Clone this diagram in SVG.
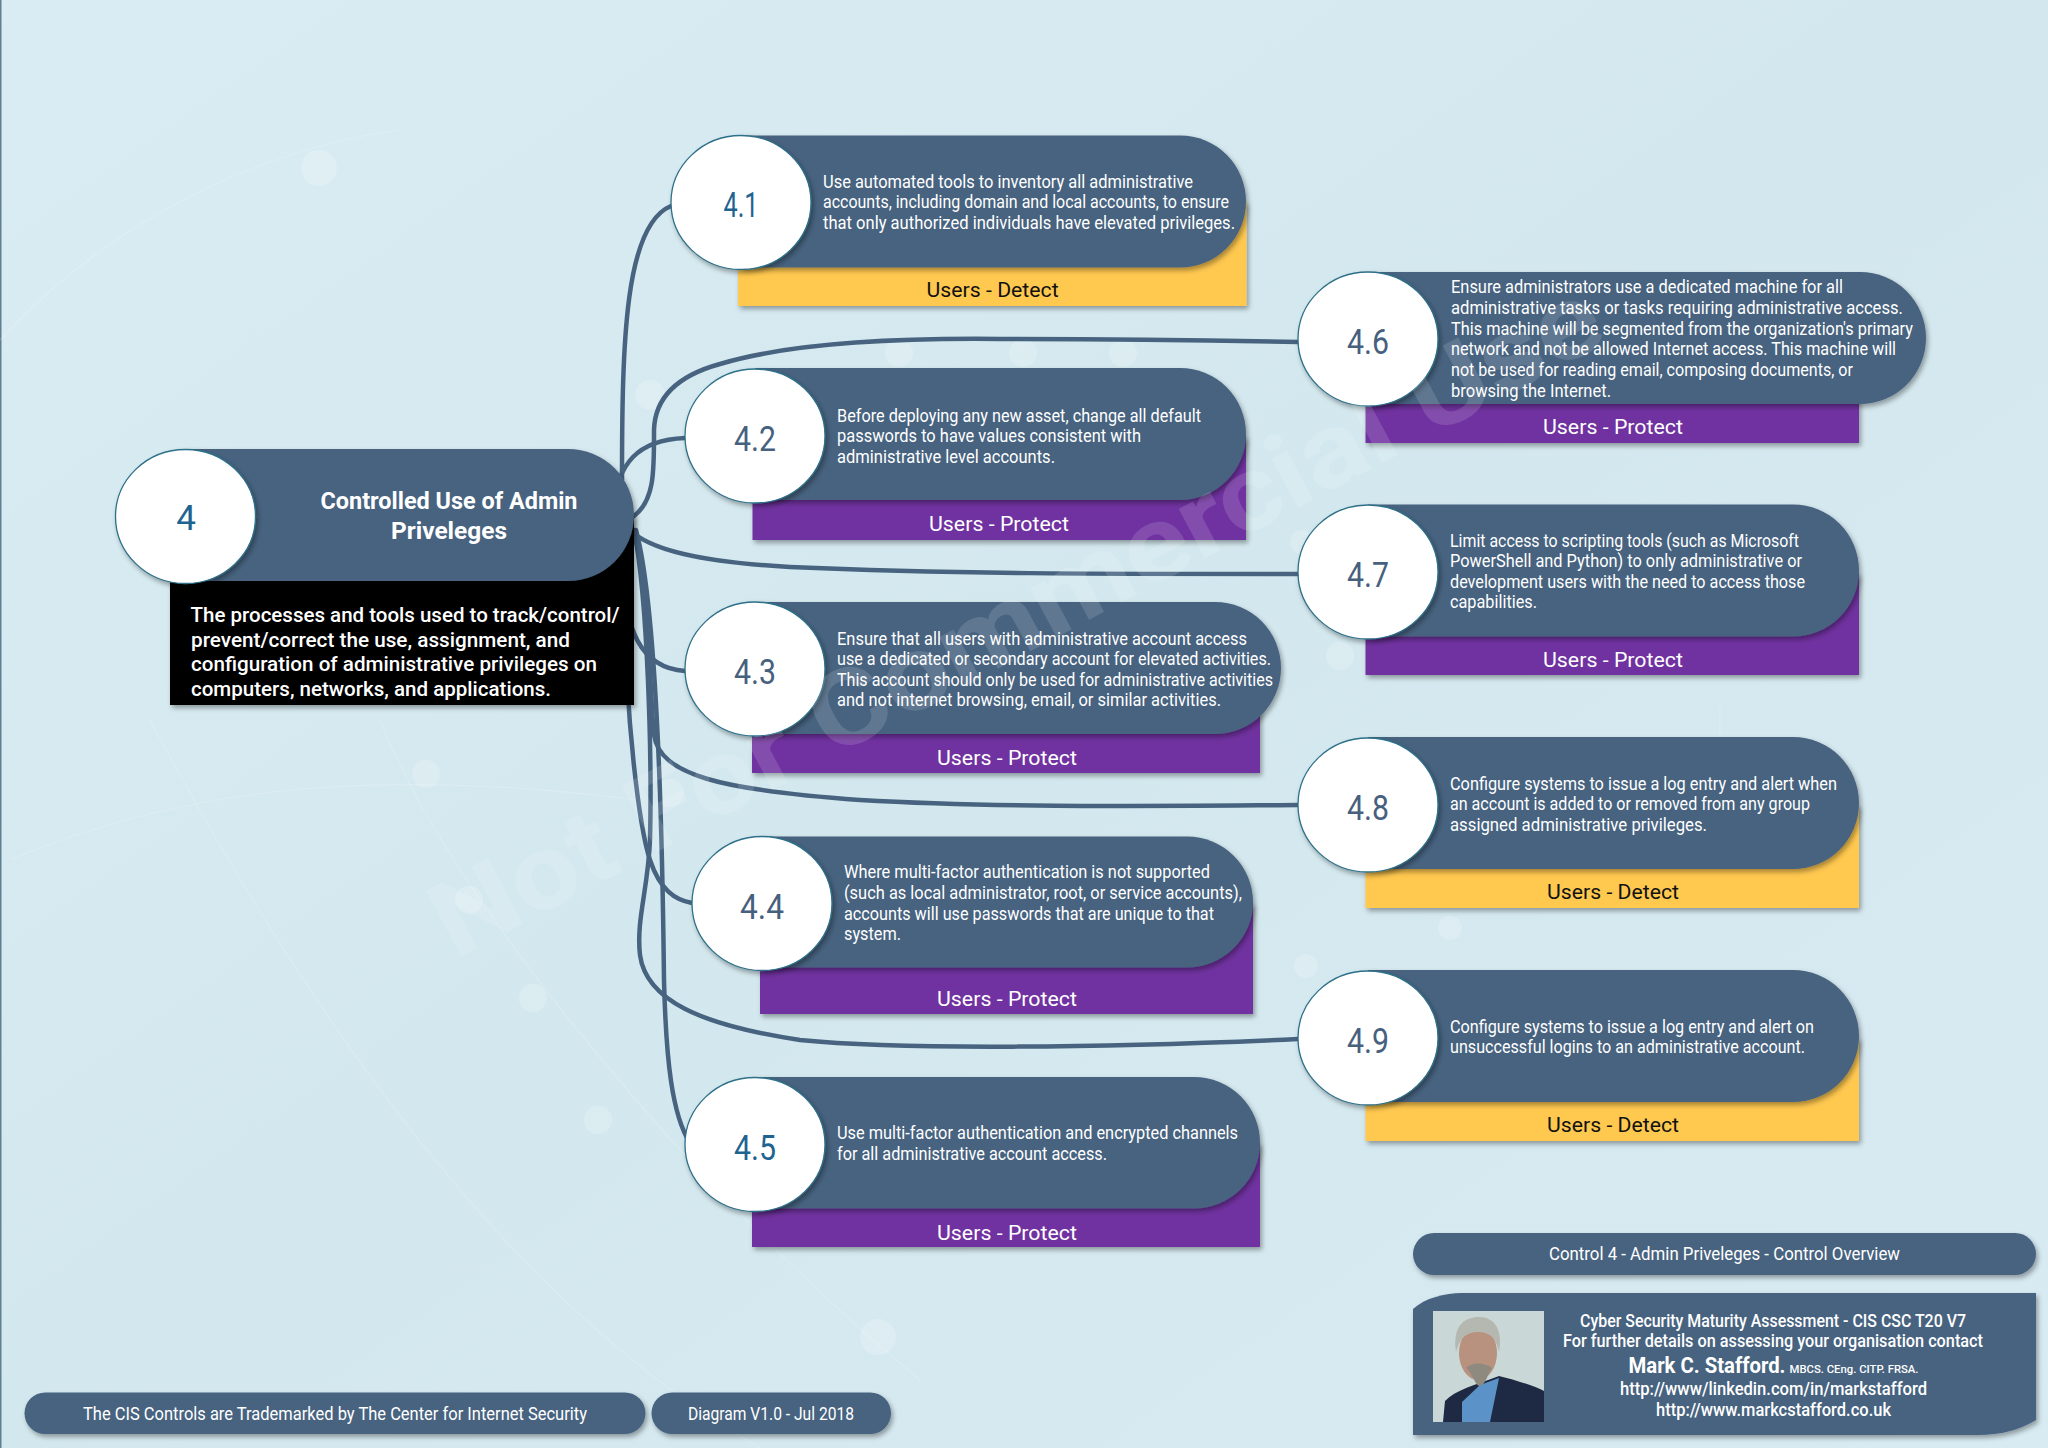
<svg xmlns="http://www.w3.org/2000/svg" width="2048" height="1448" viewBox="0 0 2048 1448">
<style>
text{font-family:"Roboto","Liberation Sans",sans-serif;fill:#fff}
.pill{fill:#476380;filter:url(#sh)}
.circ{fill:#fff;stroke:#2d7089;stroke-width:1.3;filter:url(#sh)}
.lab{filter:url(#sh)}
.det{fill:#ffc84f}
.pro{fill:#7030a0}
.num{font-size:35px;text-anchor:middle;font-weight:400}
.nb{fill:#1f6391}
.ns{fill:#46607e}
.t{font-size:17.5px}
.lt{font-size:21px;text-anchor:middle;font-weight:400}
.dk{fill:#111}
.con{fill:none;stroke:#476380;stroke-width:4.5;stroke-linecap:round}
.bub{fill:#fff;opacity:.2}
.fl{fill:none;stroke:#fff;stroke-width:1.2;opacity:.18}
.ft{font-size:18px;text-anchor:middle}
.bio{font-size:18px;text-anchor:middle;font-weight:500}
</style>
<defs>
<linearGradient id="bg" x1="0" y1="0" x2="1" y2="1"><stop offset="0" stop-color="#d9ecf3"/><stop offset=".5" stop-color="#d3e8ee"/><stop offset="1" stop-color="#d8eaf2"/></linearGradient>
<filter id="sh" x="-10%" y="-15%" width="120%" height="135%"><feDropShadow dx="2" dy="3" stdDeviation="2.5" flood-color="#000" flood-opacity=".35"/></filter>
</defs>
<g id="background">
<rect width="2048" height="1448" fill="url(#bg)"/>
<rect x="0" y="0" width="1.5" height="1448" fill="#5f8092"/>
<path class="fl" d="M10,860 C200,780 400,770 640,800"/>
<path class="fl" d="M150,720 C300,1000 500,1300 760,1448"/>
<path class="fl" d="M380,720 C450,900 700,1200 920,1380"/>
<path class="fl" d="M0,340 C100,230 250,150 400,130"/>
<path class="fl" d="M1720,700 V820"/>
<circle class="bub" cx="319" cy="168" r="18"/><circle class="bub" cx="650" cy="395" r="15"/>
<circle class="bub" cx="426" cy="774" r="14"/><circle class="bub" cx="469" cy="900" r="14"/>
<circle class="bub" cx="533" cy="998" r="14"/><circle class="bub" cx="598" cy="1120" r="14"/>
<circle class="bub" cx="670" cy="793" r="14"/><circle class="bub" cx="878" cy="1337" r="18"/>
<circle class="bub" cx="899" cy="353" r="14"/><circle class="bub" cx="1023" cy="353" r="14"/><circle class="bub" cx="1123" cy="353" r="14"/>
<circle class="bub" cx="1302" cy="542" r="12"/><circle class="bub" cx="1395" cy="538" r="14"/><circle class="bub" cx="1484" cy="566" r="14"/>
<circle class="bub" cx="1340" cy="656" r="14"/><circle class="bub" cx="1306" cy="966" r="12"/><circle class="bub" cx="1450" cy="928" r="12"/>
</g>
<g id="connectors">
<path class="con" d="M622,480 C622,340 625,225 671,206"/>
<path class="con" d="M612,520 C615,460 640,440 685,438"/>
<path class="con" d="M620,560 C625,630 640,668 685,671"/>
<path class="con" d="M625,600 C625,720 640,830 650,860 C660,890 675,900 692,903"/>
<path class="con" d="M636,530 C655,600 662,800 664,980 C666,1060 672,1115 690,1143"/>
<path class="con" d="M634,516 C655,500 654,470 654,430 C655,395 680,375 720,364 C790,343 900,338 1000,339 C1100,339 1200,340 1298,342"/>
<path class="con" d="M630,530 C650,550 700,562 790,567 C950,574 1100,574 1298,574"/>
<path class="con" d="M634,530 C650,600 650,700 654,735 C660,775 720,790 860,800 C1000,808 1150,806 1298,805"/>
<path class="con" d="M634,530 C648,600 652,760 650,840 C648,890 636,920 640,955 C646,1000 700,1025 800,1040 C900,1050 1100,1048 1298,1039"/>
</g>
<g id="node-4">
<rect x="170" y="515" width="464" height="190" fill="#000" filter="url(#sh)"/>
<path class="pill" d="M185,449 H568 A66,66 0 0 1 568,581 H185 Z"/>
<ellipse class="circ" cx="185.5" cy="516.5" rx="70" ry="67"/>
<text class="num nb" x="186" y="529.5">4</text>
<text x="449" y="509" font-size="23" font-weight="700" text-anchor="middle" textLength="257" lengthAdjust="spacingAndGlyphs">Controlled Use of Admin</text>
<text x="449" y="539" font-size="23" font-weight="700" text-anchor="middle" textLength="116" lengthAdjust="spacingAndGlyphs">Priveleges</text>
<g font-size="21" font-weight="500">
<text x="190.5" y="622" textLength="429" lengthAdjust="spacingAndGlyphs">The processes and tools used to track/control/</text>
<text x="191" y="646.6" textLength="379" lengthAdjust="spacingAndGlyphs">prevent/correct the use, assignment, and</text>
<text x="191" y="671" textLength="406" lengthAdjust="spacingAndGlyphs">configuration of administrative privileges on</text>
<text x="191" y="695.6" textLength="360" lengthAdjust="spacingAndGlyphs">computers, networks, and applications.</text>
</g>
</g>
<g id="node-4-1">
<rect class="lab det" x="738" y="202" width="508.5" height="104"/>
<path class="pill" d="M741,135.5 H1180 A66,66 0 0 1 1180,267.5 H741 Z"/>
<ellipse class="circ" cx="741" cy="202.5" rx="70" ry="67"/>
<text class="num nb" x="741" y="217" textLength="35" lengthAdjust="spacingAndGlyphs">4.1</text>
<text class="t" x="823" y="187.5" textLength="370" lengthAdjust="spacingAndGlyphs">Use automated tools to inventory all administrative</text>
<text class="t" x="823" y="208" textLength="406" lengthAdjust="spacingAndGlyphs">accounts, including domain and local accounts, to ensure</text>
<text class="t" x="823" y="228.6" textLength="412" lengthAdjust="spacingAndGlyphs">that only authorized individuals have elevated privileges.</text>
<text class="lt dk" x="992.6" y="297" textLength="132" lengthAdjust="spacingAndGlyphs">Users - Detect</text>
</g>
<g id="node-4-2">
<rect class="lab pro" x="752.5" y="436" width="493.5" height="104"/>
<path class="pill" d="M755,368 H1180 A66,66 0 0 1 1180,500 H755 Z"/>
<ellipse class="circ" cx="755" cy="436" rx="70" ry="67"/>
<text class="num ns" x="755" y="451" textLength="42" lengthAdjust="spacingAndGlyphs">4.2</text>
<text class="t" x="837" y="421.5" textLength="364" lengthAdjust="spacingAndGlyphs">Before deploying any new asset, change all default</text>
<text class="t" x="837" y="442" textLength="304" lengthAdjust="spacingAndGlyphs">passwords to have values consistent with</text>
<text class="t" x="837" y="462.6" textLength="218" lengthAdjust="spacingAndGlyphs">administrative level accounts.</text>
<text class="lt" x="999" y="531" textLength="140" lengthAdjust="spacingAndGlyphs">Users - Protect</text>
</g>
<g id="node-4-3">
<rect class="lab pro" x="752" y="669" width="508" height="104"/>
<path class="pill" d="M755,602 H1215 A66,66 0 0 1 1215,734 H755 Z"/>
<ellipse class="circ" cx="755" cy="669" rx="70" ry="67"/>
<text class="num ns" x="755" y="684" textLength="42" lengthAdjust="spacingAndGlyphs">4.3</text>
<text class="t" x="837" y="644.6" textLength="410" lengthAdjust="spacingAndGlyphs">Ensure that all users with administrative account access</text>
<text class="t" x="837" y="665" textLength="434" lengthAdjust="spacingAndGlyphs">use a dedicated or secondary account for elevated activities.</text>
<text class="t" x="837" y="685.6" textLength="436" lengthAdjust="spacingAndGlyphs">This account should only be used for administrative activities</text>
<text class="t" x="837" y="706" textLength="384" lengthAdjust="spacingAndGlyphs">and not internet browsing, email, or similar activities.</text>
<text class="lt" x="1007" y="764.5" textLength="140" lengthAdjust="spacingAndGlyphs">Users - Protect</text>
</g>
<g id="node-4-4">
<rect class="lab pro" x="760" y="903" width="493" height="111"/>
<path class="pill" d="M762,836.5 H1187 A66,65.5 0 0 1 1187,967.5 H762 Z"/>
<ellipse class="circ" cx="762" cy="903.5" rx="70" ry="67"/>
<text class="num ns" x="762" y="918.5" textLength="44" lengthAdjust="spacingAndGlyphs">4.4</text>
<text class="t" x="844" y="878.4" textLength="366" lengthAdjust="spacingAndGlyphs">Where multi-factor authentication is not supported</text>
<text class="t" x="844" y="899" textLength="398" lengthAdjust="spacingAndGlyphs">(such as local administrator, root, or service accounts),</text>
<text class="t" x="844" y="919.6" textLength="370" lengthAdjust="spacingAndGlyphs">accounts will use passwords that are unique to that</text>
<text class="t" x="844" y="940" textLength="57" lengthAdjust="spacingAndGlyphs">system.</text>
<text class="lt" x="1007" y="1006" textLength="140" lengthAdjust="spacingAndGlyphs">Users - Protect</text>
</g>
<g id="node-4-5">
<rect class="lab pro" x="752" y="1143" width="508" height="104"/>
<path class="pill" d="M755,1077 H1194 A66,65.75 0 0 1 1194,1208.5 H755 Z"/>
<ellipse class="circ" cx="755" cy="1144.5" rx="70" ry="67"/>
<text class="num nb" x="755" y="1159.5" textLength="42" lengthAdjust="spacingAndGlyphs">4.5</text>
<text class="t" x="837" y="1139" textLength="401" lengthAdjust="spacingAndGlyphs">Use multi-factor authentication and encrypted channels</text>
<text class="t" x="837" y="1159.6" textLength="270" lengthAdjust="spacingAndGlyphs">for all administrative account access.</text>
<text class="lt" x="1007" y="1240" textLength="140" lengthAdjust="spacingAndGlyphs">Users - Protect</text>
</g>
<g id="node-4-6">
<rect class="lab pro" x="1365.5" y="339" width="493.5" height="104"/>
<path class="pill" d="M1368,272 H1860 A66,66 0 0 1 1860,404 H1368 Z"/>
<ellipse class="circ" cx="1368" cy="339" rx="70" ry="67"/>
<text class="num ns" x="1368" y="354" textLength="42" lengthAdjust="spacingAndGlyphs">4.6</text>
<text class="t" x="1451" y="293.3" textLength="392" lengthAdjust="spacingAndGlyphs">Ensure administrators use a dedicated machine for all</text>
<text class="t" x="1451" y="314" textLength="452" lengthAdjust="spacingAndGlyphs">administrative tasks or tasks requiring administrative access.</text>
<text class="t" x="1451" y="335" textLength="462" lengthAdjust="spacingAndGlyphs">This machine will be segmented from the organization's primary</text>
<text class="t" x="1451" y="355.4" textLength="445" lengthAdjust="spacingAndGlyphs">network and not be allowed Internet access. This machine will</text>
<text class="t" x="1451" y="375.6" textLength="402" lengthAdjust="spacingAndGlyphs">not be used for reading email, composing documents, or</text>
<text class="t" x="1451" y="396.5" textLength="160" lengthAdjust="spacingAndGlyphs">browsing the Internet.</text>
<text class="lt" x="1613" y="434" textLength="140" lengthAdjust="spacingAndGlyphs">Users - Protect</text>
</g>
<g id="node-4-7">
<rect class="lab pro" x="1365.5" y="573" width="493.5" height="102"/>
<path class="pill" d="M1368,504.5 H1793 A66,66 0 0 1 1793,636.5 H1368 Z"/>
<ellipse class="circ" cx="1368" cy="572" rx="70" ry="67"/>
<text class="num ns" x="1368" y="587" textLength="42" lengthAdjust="spacingAndGlyphs">4.7</text>
<text class="t" x="1450" y="546.6" textLength="349" lengthAdjust="spacingAndGlyphs">Limit access to scripting tools (such as Microsoft</text>
<text class="t" x="1450" y="567" textLength="352" lengthAdjust="spacingAndGlyphs">PowerShell and Python) to only administrative or</text>
<text class="t" x="1450" y="587.6" textLength="355" lengthAdjust="spacingAndGlyphs">development users with the need to access those</text>
<text class="t" x="1450" y="608" textLength="87" lengthAdjust="spacingAndGlyphs">capabilities.</text>
<text class="lt" x="1613" y="666.5" textLength="140" lengthAdjust="spacingAndGlyphs">Users - Protect</text>
</g>
<g id="node-4-8">
<rect class="lab det" x="1365.5" y="805" width="493.5" height="103"/>
<path class="pill" d="M1368,737 H1793 A66,66 0 0 1 1793,869 H1368 Z"/>
<ellipse class="circ" cx="1368" cy="805" rx="70" ry="67"/>
<text class="num ns" x="1368" y="820" textLength="42" lengthAdjust="spacingAndGlyphs">4.8</text>
<text class="t" x="1450" y="789.6" textLength="387" lengthAdjust="spacingAndGlyphs">Configure systems to issue a log entry and alert when</text>
<text class="t" x="1450" y="810" textLength="360" lengthAdjust="spacingAndGlyphs">an account is added to or removed from any group</text>
<text class="t" x="1450" y="830.7" textLength="257" lengthAdjust="spacingAndGlyphs">assigned administrative privileges.</text>
<text class="lt dk" x="1613" y="899" textLength="132" lengthAdjust="spacingAndGlyphs">Users - Detect</text>
</g>
<g id="node-4-9">
<rect class="lab det" x="1365.5" y="1038" width="493.5" height="103"/>
<path class="pill" d="M1368,970 H1793 A66,66 0 0 1 1793,1102 H1368 Z"/>
<ellipse class="circ" cx="1368" cy="1038" rx="70" ry="67"/>
<text class="num ns" x="1368" y="1053" textLength="42" lengthAdjust="spacingAndGlyphs">4.9</text>
<text class="t" x="1450" y="1032.5" textLength="364" lengthAdjust="spacingAndGlyphs">Configure systems to issue a log entry and alert on</text>
<text class="t" x="1450" y="1053" textLength="355" lengthAdjust="spacingAndGlyphs">unsuccessful logins to an administrative account.</text>
<text class="lt dk" x="1613" y="1131.5" textLength="132" lengthAdjust="spacingAndGlyphs">Users - Detect</text>
</g>
<g id="overview">
<rect class="pill" x="1413" y="1233" width="623" height="42" rx="21"/>
<text class="ft" x="1724.5" y="1260" textLength="351" lengthAdjust="spacingAndGlyphs">Control 4 - Admin Priveleges - Control Overview</text>
</g>
<g id="footer-trademark">
<rect class="pill" x="24.5" y="1392.5" width="621" height="41.5" rx="20.7"/>
<text class="ft" x="335" y="1420" textLength="504" lengthAdjust="spacingAndGlyphs">The CIS Controls are Trademarked by The Center for Internet Security</text>
</g>
<g id="footer-version">
<rect class="pill" x="651.5" y="1392.5" width="239.5" height="41.5" rx="20.7"/>
<text class="ft" x="771" y="1420" textLength="166" lengthAdjust="spacingAndGlyphs">Diagram V1.0 - Jul 2018</text>
</g>
<g id="bio">
<path class="pill" d="M1413,1309 C1425,1298 1445,1293 1462,1293 H2036 V1420 C2020,1430 2000,1435 1978,1435 H1413 Z"/>
<rect x="1433" y="1311" width="111" height="111" fill="#c9d8d6"/>
<path d="M1443,1422 L1445,1401 C1455,1390 1475,1385 1499,1376 C1515,1380 1535,1386 1544,1391 V1422 Z" fill="#1e2a44"/>
<path d="M1462,1422 V1402 L1480,1385 L1499,1378 L1490,1422 Z" fill="#5b93c8"/>
<ellipse cx="1478" cy="1353" rx="19" ry="27" fill="#b8917f"/>
<path d="M1456,1352 C1452,1325 1465,1317 1479,1317 C1495,1317 1503,1330 1499,1352 C1496,1338 1490,1332 1478,1332 C1466,1332 1460,1338 1456,1352 Z" fill="#b5b8b0"/>
<path d="M1466,1368 C1472,1362 1484,1362 1492,1368 C1488,1372 1486,1385 1480,1386 C1475,1386 1472,1372 1466,1368 Z" fill="#8f8a80"/>
<text class="bio" x="1773" y="1326.7" textLength="386" lengthAdjust="spacingAndGlyphs">Cyber Security Maturity Assessment - CIS CSC T20 V7</text>
<text class="bio" x="1773" y="1347" textLength="420" lengthAdjust="spacingAndGlyphs">For further details on assessing your organisation contact</text>
<text x="1628.5" y="1372.7" font-size="22" font-weight="700" textLength="157" lengthAdjust="spacingAndGlyphs">Mark C. Stafford.</text>
<text x="1789.5" y="1372.7" font-size="11.5" font-weight="500" textLength="129" lengthAdjust="spacingAndGlyphs">MBCS. CEng. CITP. FRSA.</text>
<text class="bio" x="1773.5" y="1395" textLength="307" lengthAdjust="spacingAndGlyphs">http://www/linkedin.com/in/markstafford</text>
<text class="bio" x="1773.5" y="1415.6" textLength="235" lengthAdjust="spacingAndGlyphs">http://www.markcstafford.co.uk</text>
</g>
<text id="watermark" x="455" y="960" font-size="105" font-weight="700" textLength="1311" lengthAdjust="spacingAndGlyphs" opacity=".13" transform="rotate(-28.2 455 960)">Not For Commercial Use</text>
</svg>
